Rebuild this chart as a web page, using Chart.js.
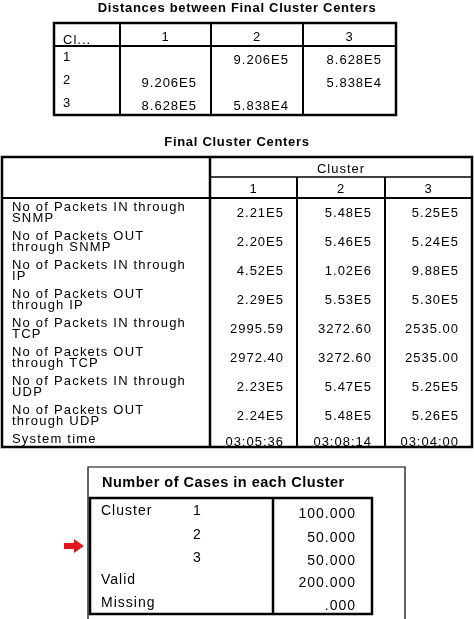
<!DOCTYPE html>
<html>
<head>
<meta charset="utf-8">
<script src="https://cdn.jsdelivr.net/npm/chart.js@4"></script>
<style>
  html, body { margin: 0; padding: 0; background: #fff; }
  #wrap { width: 474px; height: 619px; }
</style>
</head>
<body>
<div id="wrap"><canvas id="tableCanvas"></canvas></div>
<script>
// Distances between final cluster centers
const distClusters = ['1', '2', '3'];
const distValues = [
    ['', '9.206E5', '8.628E5'],
    ['9.206E5', '', '5.838E4'],
    ['8.628E5', '5.838E4', '']
];

// Final cluster centers
const centerRows = [
    ['No of Packets IN through', 'SNMP'],
    ['No of Packets OUT', 'through SNMP'],
    ['No of Packets IN through', 'IP'],
    ['No of Packets OUT', 'through IP'],
    ['No of Packets IN through', 'TCP'],
    ['No of Packets OUT', 'through TCP'],
    ['No of Packets IN through', 'UDP'],
    ['No of Packets OUT', 'through UDP'],
    ['System time']
];
const cluster1 = ['2.21E5', '2.20E5', '4.52E5', '2.29E5', '2995.59', '2972.40', '2.23E5', '2.24E5', '03:05:36'];
const cluster2 = ['5.48E5', '5.46E5', '1.02E6', '5.53E5', '3272.60', '3272.60', '5.47E5', '5.48E5', '03:08:14'];
const cluster3 = ['5.25E5', '5.24E5', '9.88E5', '5.30E5', '2535.00', '2535.00', '5.25E5', '5.26E5', '03:04:00'];

// Number of cases in each cluster
const caseLabels = ['Cluster', '', '', 'Valid', 'Missing'];
const caseSub = ['1', '2', '3', '', ''];
const caseValues = ['100.000', '50.000', '50.000', '200.000', '.000'];

const FONT = '"Liberation Sans", Arial, sans-serif';

const tablePlugin = {
    id: 'tables',
    afterDraw(chart) {
        const c = chart.ctx;
        const sx = chart.scales.x, sy = chart.scales.y;
        const X = v => sx.getPixelForValue(v);
        const Y = v => sy.getPixelForValue(v);
        c.save();
        c.fillStyle = '#000';
        c.strokeStyle = '#000';
        c.textBaseline = 'middle';

        const line = (x1, y1, x2, y2, w) => {
            c.lineWidth = w;
            c.beginPath(); c.moveTo(X(x1), Y(y1)); c.lineTo(X(x2), Y(y2)); c.stroke();
        };
        const rect = (x1, y1, x2, y2, w) => {
            c.lineWidth = w;
            c.strokeRect(X(x1), Y(y1), X(x2) - X(x1), Y(y2) - Y(y1));
        };
        const text = (s, x, y, align, font, sp) => {
            c.font = font;
            c.letterSpacing = (sp === undefined ? 1 : sp) + 'px';
            c.textAlign = align;
            c.fillText(s, X(x), Y(y));
        };
        const reg = '13px ' + FONT;

        // ---- table 1
        text('Distances between Final Cluster Centers', 237, 8, 'center', 'bold 13px ' + FONT, 0.7);
        rect(54, 23, 396, 115, 2.5);
        line(54, 46, 396, 46, 2);
        [120, 211, 303].forEach(x => line(x, 23, x, 115, 2));
        text('Cl...', 63, 40, 'left', reg);
        const colR1 = [120, 211, 303, 396];
        distClusters.forEach((k, i) => {
            text(k, (colR1[i] + colR1[i + 1]) / 2, 37, 'center', reg);
            text(k, 63, 57 + i * 23, 'left', reg);
            distValues[i].forEach((v, j) => {
                if (v) text(v, colR1[j + 1] - 14, 60 + i * 23, 'right', reg);
            });
        });

        // ---- table 2
        text('Final Cluster Centers', 237, 142, 'center', 'bold 13px ' + FONT, 0.7);
        rect(2, 157, 472, 447, 2.5);
        line(210, 157, 210, 447, 2.5);
        line(210, 177, 472, 177, 1.5);
        line(2, 198, 472, 198, 2);
        [297, 385].forEach(x => line(x, 177, x, 447, 2));
        text('Cluster', 341, 169, 'center', reg);
        const colR2 = [210, 297, 385, 472];
        ['1', '2', '3'].forEach((k, i) => text(k, (colR2[i] + colR2[i + 1]) / 2, 189, 'center', reg));
        const cols = [cluster1, cluster2, cluster3];
        centerRows.forEach((lab, i) => {
            const top = 198 + i * 29;
            text(lab[0], 12, top + 9, 'left', reg, 1.2);
            if (lab.length === 2) text(lab[1], 12, top + 20, 'left', reg, 1.2);
            const cy = lab.length === 2 ? top + 15 : top + 12;
            cols.forEach((col, j) => text(col[i], colR2[j + 1] - 13, cy, 'right', reg));
        });

        // ---- table 3
        c.lineWidth = 1.2;
        c.beginPath();
        c.moveTo(X(88), Y(625)); c.lineTo(X(88), Y(467)); c.lineTo(X(405), Y(467)); c.lineTo(X(405), Y(625));
        c.stroke();
        text('Number of Cases in each Cluster', 102, 483, 'left', 'bold 14.5px ' + FONT, 0.5);
        rect(90, 498, 372, 614, 2.5);
        line(273, 498, 273, 614, 2.5);
        const caseY = [511, 535, 558, 580, 603];
        caseLabels.forEach((l, i) => {
            if (l) text(l, 101, caseY[i], 'left', '14px ' + FONT);
            if (caseSub[i]) text(caseSub[i], 193, caseY[i], 'left', '14px ' + FONT);
            text(caseValues[i], 356, caseY[i] + 3, 'right', '14px ' + FONT);
        });

        // red arrow
        c.fillStyle = '#e8141c';
        c.beginPath();
        c.moveTo(X(64), Y(543)); c.lineTo(X(74), Y(543)); c.lineTo(X(74), Y(539));
        c.lineTo(X(84), Y(546)); c.lineTo(X(74), Y(553)); c.lineTo(X(74), Y(549));
        c.lineTo(X(64), Y(549)); c.closePath(); c.fill();
        c.restore();
    }
};

new Chart(document.getElementById('tableCanvas').getContext('2d'), {
    type: 'scatter',
    data: { datasets: [{ data: [] }] },
    options: {
        responsive: true,
        maintainAspectRatio: false,
        animation: false,
        layout: { padding: 0 },
        plugins: { legend: { display: false }, tooltip: { enabled: false } },
        scales: {
            x: { type: 'linear', min: 0, max: 474, display: false },
            y: { type: 'linear', min: 0, max: 619, reverse: true, display: false }
        }
    },
    plugins: [tablePlugin]
});
</script>
</body>
</html>
